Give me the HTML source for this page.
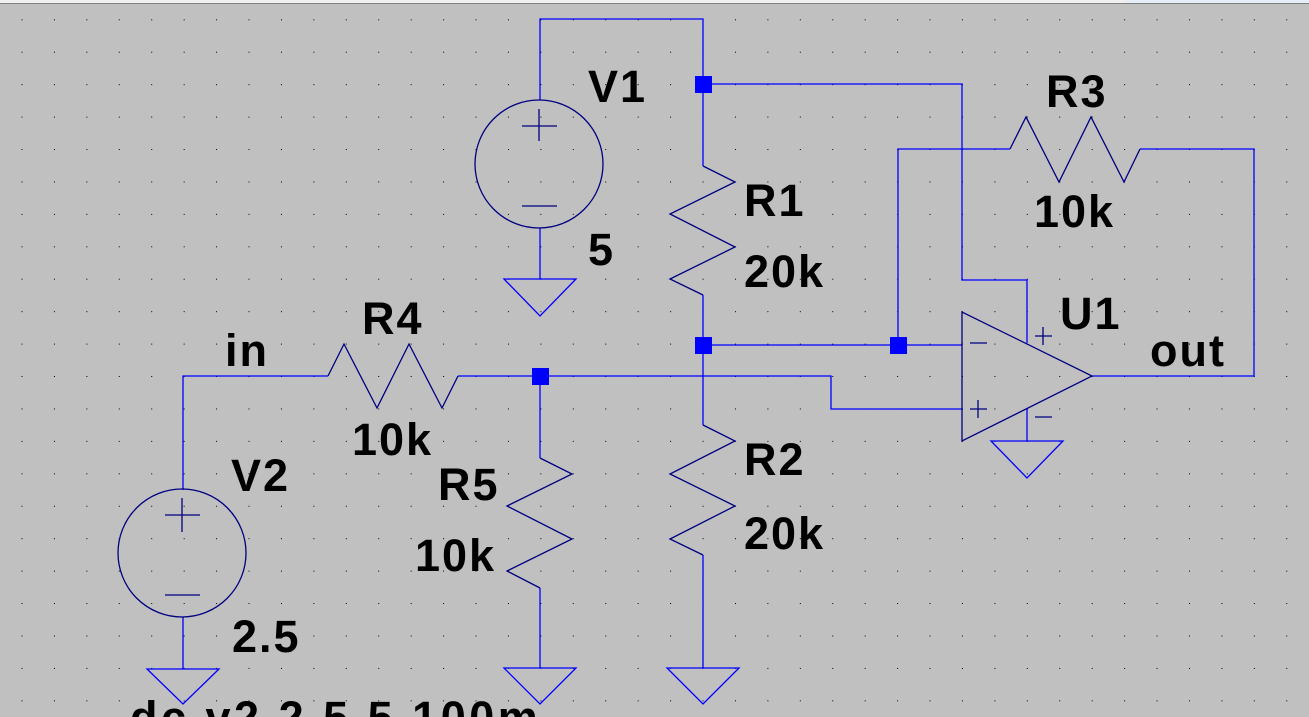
<!DOCTYPE html>
<html><head><meta charset="utf-8"><style>
html,body{margin:0;padding:0;background:#c0c0c0;}
svg{display:block;}
text{font-family:"Liberation Sans",sans-serif;font-weight:bold;font-size:45px;fill:#000;letter-spacing:2px;}
</style></head><body>
<svg width="1309" height="717" viewBox="0 0 1309 717" xmlns="http://www.w3.org/2000/svg">
<defs>
<pattern id="g" x="21.5" y="19.3" width="32.43" height="32.43" patternUnits="userSpaceOnUse">
<rect x="0" y="0" width="1" height="1" fill="#000"/>
</pattern>
</defs>
<rect width="1309" height="717" fill="#c0c0c0"/>
<rect y="6" width="1309" height="711" fill="url(#g)"/>
<rect x="0" y="0" width="1309" height="3" fill="#f0f0f0"/>
<rect x="0" y="3" width="1309" height="1" fill="#808080"/>
<rect x="1126" y="0" width="183" height="3" fill="#e8eef8"/>
<g fill="none" stroke="#0000ff" stroke-width="1.3">
<polyline points="540,100 540,19 703,19 703,166"/>
<line x1="540" y1="228" x2="540" y2="279"/>
<polyline points="703,84 962,84 962,280 1027,280 1027,343"/>
<line x1="703" y1="295" x2="703" y2="425"/>
<line x1="703" y1="345" x2="962" y2="345"/>
<polyline points="898,345 898,149 1010,149"/>
<polyline points="1140,149 1254,149 1254,376 1092,376"/>
<line x1="703" y1="555" x2="703" y2="668"/>
<polyline points="183,490 183,376 328,376"/>
<polyline points="458,376 831,376 831,409 962,409"/>
<line x1="540" y1="376" x2="540" y2="458"/>
<line x1="540" y1="588" x2="540" y2="668"/>
<line x1="183" y1="617" x2="183" y2="669"/>
<line x1="1027" y1="409" x2="1027" y2="441"/>
<polygon points="504,279 576,279 540,316"/>
<polygon points="667,668 739,668 703,704"/>
<polygon points="504,668 576,668 540,704"/>
<polygon points="147,669 219,669 183,704"/>
<polygon points="991,441 1063,441 1027,478"/>
</g>
<g fill="none" stroke="#000080" stroke-width="1.3">
<circle cx="539" cy="164" r="64"/>
<circle cx="182" cy="553" r="64"/>
<line x1="522" y1="126" x2="557" y2="126"/><line x1="539" y1="109" x2="539" y2="141"/>
<line x1="522" y1="206" x2="557" y2="206"/>
<line x1="165" y1="515" x2="200" y2="515"/><line x1="182" y1="498" x2="182" y2="532"/>
<line x1="165" y1="595" x2="200" y2="595"/>
<polyline points="703,166 735,182 670,214 735,247 670,279 703,295"/>
<polyline points="703,425 735,441 670,474 735,506 670,539 703,555"/>
<polyline points="540,458 572,474 507,506 572,539 507,571 540,588"/>
<polyline points="328,376 344,344 377,408 409,344 442,408 458,376"/>
<polyline points="1010,149 1026,117 1059,182 1091,117 1124,182 1140,149"/>
<polygon points="962,312 962,441 1092,376"/>
<line x1="970" y1="343" x2="987" y2="343"/>
<line x1="970" y1="409" x2="987" y2="409"/><line x1="978" y1="400" x2="978" y2="418"/>
<line x1="1035" y1="336" x2="1052" y2="336"/><line x1="1043" y1="327" x2="1043" y2="345"/>
<line x1="1035" y1="417" x2="1052" y2="417"/>
</g>
<g fill="#0000ff">
<rect x="695" y="76" width="17" height="17"/>
<rect x="695" y="337" width="17" height="17"/>
<rect x="890" y="337" width="17" height="17"/>
<rect x="532" y="368" width="17" height="17"/>
</g>
<text x="588" y="102">V1</text>
<text x="588" y="265">5</text>
<text x="744" y="216">R1</text>
<text x="744" y="287">20k</text>
<text x="1046" y="107">R3</text>
<text x="1034" y="227">10k</text>
<text x="1060" y="329">U1</text>
<text x="1150" y="366">out</text>
<text x="225" y="366">in</text>
<text x="362" y="334">R4</text>
<text x="352" y="455">10k</text>
<text x="231" y="491">V2</text>
<text x="438" y="500">R5</text>
<text x="415" y="571">10k</text>
<text x="744" y="475">R2</text>
<text x="744" y="549">20k</text>
<text x="232" y="652">2.5</text>
<text x="130" y="733" style="letter-spacing:3.5px">dc v2 2.5 5 100m</text>
</svg>
</body></html>
